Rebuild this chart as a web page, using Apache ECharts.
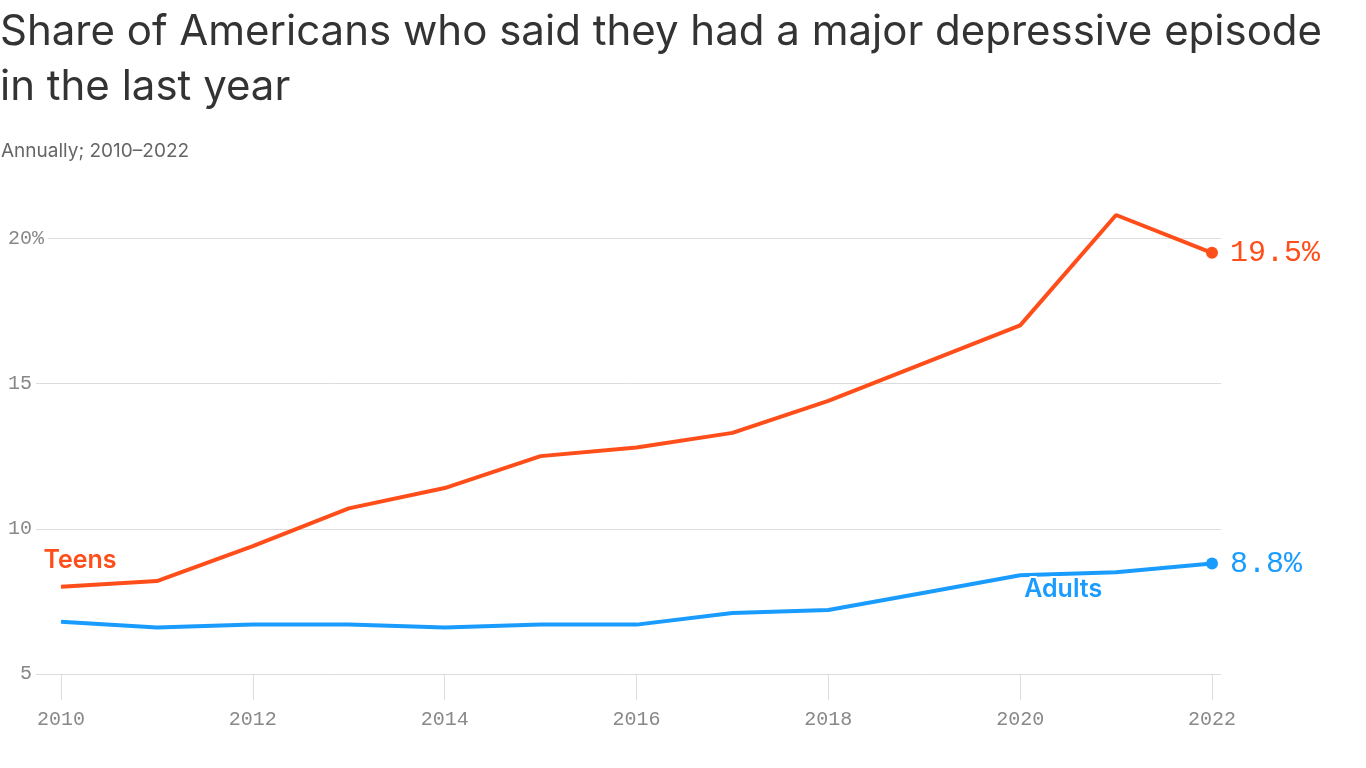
<!DOCTYPE html>
<html>
<head>
<meta charset="utf-8">
<script src="https://cdn.jsdelivr.net/npm/echarts@6/dist/echarts.min.js"></script>
<style>
html,body{margin:0;padding:0;background:#fff;}
#chart{width:1366px;height:768px;}
</style>
</head>
<body>
<div id="chart"></div>
<script>
const years = [2010, 2011, 2012, 2013, 2014, 2015, 2016, 2017, 2018, 2019, 2020, 2021, 2022];
const teens = [8.0, 8.2, 9.4, 10.7, 11.4, 12.5, 12.8, 13.3, 14.4, 15.7, 17.0, 20.8, 19.5];
const adults = [6.8, 6.6, 6.7, 6.7, 6.6, 6.7, 6.7, 7.1, 7.2, 7.8, 8.4, 8.5, 8.8];
const xTicks = [2010, 2012, 2014, 2016, 2018, 2020, 2022];
const yTicks = [5, 10, 15, 20];

const TEEN_COLOR = '#ff4e1a';
const ADULT_COLOR = '#1a9cff';
const MONO = '"Liberation Mono", "DejaVu Sans Mono", monospace';
const SANS = 'Inter, Roboto, sans-serif';

function buildData(values, color, nameIdx, nameText, namePos) {
  const last = values.length - 1;
  return values.map((v, i) => {
    const item = { value: [years[i], v] };
    if (i === last) {
      item.symbol = 'circle';
      item.symbolSize = 12;
      item.label = {
        show: true, position: 'right', distance: 12,
        formatter: v.toFixed(1) + '%',
        fontFamily: MONO, fontSize: 30, color: color
      };
    } else if (i === nameIdx) {
      item.symbol = 'circle';
      item.symbolSize = 0.01;
      item.label = Object.assign({
        show: true, formatter: nameText,
        fontFamily: SANS, fontWeight: 600, fontSize: 25, color: color,
        textBorderColor: '#fff', textBorderWidth: 4
      }, namePos);
    } else {
      item.symbol = 'none';
    }
    return item;
  });
}

const chart = echarts.init(document.getElementById('chart'), null, { renderer: 'canvas' });
chart.setOption({
  animation: false,
  backgroundColor: '#fff',
  title: [
    {
      text: 'Share of Americans who said they had a major depressive episode\nin the last year',
      left: -5, top: 0,
      textStyle: { fontFamily: SANS, fontSize: 42, fontWeight: 400, color: '#333', lineHeight: 55 }
    },
    {
      text: 'Annually; 2010–2022',
      left: -4, top: 137,
      textStyle: { fontFamily: SANS, fontSize: 19, fontWeight: 400, color: '#666' }
    }
  ],
  grid: { left: 36, right: 145, top: 93, bottom: 94, containLabel: false },
  xAxis: {
    type: 'value',
    min: 2009.7394, max: 2022.0938,
    axisLine: { show: false },
    splitLine: { show: false },
    axisTick: { show: true, customValues: xTicks, length: 26, lineStyle: { color: '#ddd', width: 1 } },
    axisLabel: {
      customValues: xTicks, margin: 36,
      fontFamily: MONO, fontSize: 20, color: '#888',
      formatter: v => String(v)
    }
  },
  yAxis: {
    type: 'value',
    min: 5, max: 25, interval: 5,
    axisLine: { show: false },
    axisTick: { show: false },
    splitLine: { show: true, showMaxLine: false, lineStyle: { color: '#dcdcdc', width: 1 } },
    axisLabel: {
      showMaxLabel: false,
      margin: -12, align: 'right',
      fontFamily: MONO, fontSize: 20, color: '#888',
      formatter: v => v === 20 ? '{n|20}{p|%}' : '{n|' + v + '}{h|%}',
      rich: {
        n: { fontFamily: MONO, fontSize: 20, color: '#888' },
        p: { fontFamily: MONO, fontSize: 20, color: '#888', backgroundColor: '#fff', padding: [0, 4, 0, 0] },
        h: { fontFamily: MONO, fontSize: 20, color: 'rgba(0,0,0,0)', padding: [0, 4, 0, 0] }
      }
    }
  },
  series: [
    {
      name: 'Adults', type: 'line',
      data: buildData(adults, ADULT_COLOR, 10, 'Adults', { position: 'bottom', distance: 5, offset: [43, -3] }),
      lineStyle: { color: ADULT_COLOR, width: 4 },
      itemStyle: { color: ADULT_COLOR },
      showSymbol: true, z: 3
    },
    {
      name: 'Teens', type: 'line',
      data: buildData(teens, TEEN_COLOR, 0, 'Teens', { position: 'top', distance: 5, offset: [19, -9] }),
      lineStyle: { color: TEEN_COLOR, width: 4 },
      itemStyle: { color: TEEN_COLOR },
      showSymbol: true, z: 3
    }
  ]
});
</script>
</body>
</html>
